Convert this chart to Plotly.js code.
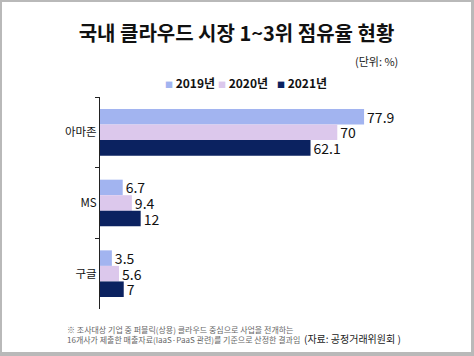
<!DOCTYPE html>
<html>
<head>
<meta charset="utf-8">
<script src="https://cdn.plot.ly/plotly-3.0.1.min.js"></script>
<style>
  html, body { margin: 0; padding: 0; background: #b9b9b9; width: 474px; height: 356px; overflow: hidden; }
  #chart { position: absolute; left: 2px; top: 2px; width: 469px; height: 350px; background: #fff; }
</style>
</head>
<body>
<div id="chart"></div>
<script>
// ---- data ----
const categories = ['아마존', 'MS', '구글'];
const years = ['2019년', '2020년', '2021년'];
const share2019 = [77.9, 6.7, 3.5];
const share2020 = [70, 9.4, 5.6];
const share2021 = [62.1, 12, 7];
const colors = ['#a2b4f0', '#dcc8ec', '#0b2260'];

const FONT = '"Noto Sans CJK KR", "Noto Sans", sans-serif';
const series = [share2019, share2020, share2021];

const traces = series.map((vals, i) => ({
  type: 'bar',
  orientation: 'h',
  name: years[i],
  y: categories,
  x: vals,
  text: vals.map(v => String(v)),
  textposition: 'outside',
  constraintext: 'none',
  cliponaxis: false,
  textfont: { family: FONT, size: 14, color: '#111' },
  marker: { color: colors[i], line: { width: 0 } },
  showlegend: false,
  hoverinfo: 'x+y'
}));

// legend drawn as annotations from the series names/colors
const legendX = [0.186, 0.342, 0.516];
const legendAnn = years.map((y, i) => ({
  xref: 'paper', yref: 'paper',
  x: legendX[i], y: 1.0, xanchor: 'left', yanchor: 'middle',
  yshift: 15,
  text: '<span style="color:' + colors[i] + ';font-size:8px">■</span> <b>' + y + '</b>',
  showarrow: false,
  font: { family: FONT, size: 12, color: '#111' }
}));

const layout = {
  width: 469, height: 350,
  margin: { l: 98, r: 32, t: 95, b: 43 },
  paper_bgcolor: '#fff', plot_bgcolor: '#fff',
  font: { family: FONT, color: '#111' },
  title: {
    text: '<b>국내 클라우드 시장 1~3위 점유율 현황</b>',
    font: { family: FONT, size: 20, color: '#111' },
    x: 0.5, xanchor: 'center', y: 0.91, yanchor: 'middle', yref: 'container'
  },
  barmode: 'group',
  bargap: 0.34,
  bargroupgap: 0,
  xaxis: {
    range: [0, 100], visible: false, showgrid: false, zeroline: false, fixedrange: true
  },
  yaxis: {
    autorange: 'reversed',
    showline: true, linecolor: '#222', linewidth: 1,
    ticks: 'outside', tickson: 'boundaries', ticklen: 4, tickcolor: '#222',
    tickfont: { family: FONT, size: 11.5, color: '#111' },
    showgrid: false, zeroline: false, fixedrange: true
  },
  annotations: legendAnn.concat([
    {
      xref: 'paper', yref: 'paper', x: 0.885, y: 1.0, xanchor: 'right', yanchor: 'middle',
      yshift: 36,
      text: '(단위: %)', showarrow: false,
      font: { family: FONT, size: 11, color: '#222' }
    },
    {
      xref: 'paper', yref: 'paper', x: 0, y: 0, xanchor: 'left', yanchor: 'top',
      xshift: -35, yshift: -13, align: 'left',
      text: '※ 조사대상 기업 중 퍼블릭(상용) 클라우드 중심으로 사업을 전개하는<br>16개사가 제출한 매출자료(IaaS·PaaS 관련)를 기준으로 산정한 결과임',
      showarrow: false,
      font: { family: FONT, size: 8, color: '#666' }
    },
    {
      xref: 'paper', yref: 'paper', x: 1.0, y: 0, xanchor: 'right', yanchor: 'top',
      xshift: -36, yshift: -20,
      text: '(자료: 공정거래위원회 )', showarrow: false,
      font: { family: FONT, size: 10, color: '#222' }
    }
  ])
};

Plotly.newPlot('chart', traces, layout, { displayModeBar: false, staticPlot: true });
</script>
</body>
</html>
